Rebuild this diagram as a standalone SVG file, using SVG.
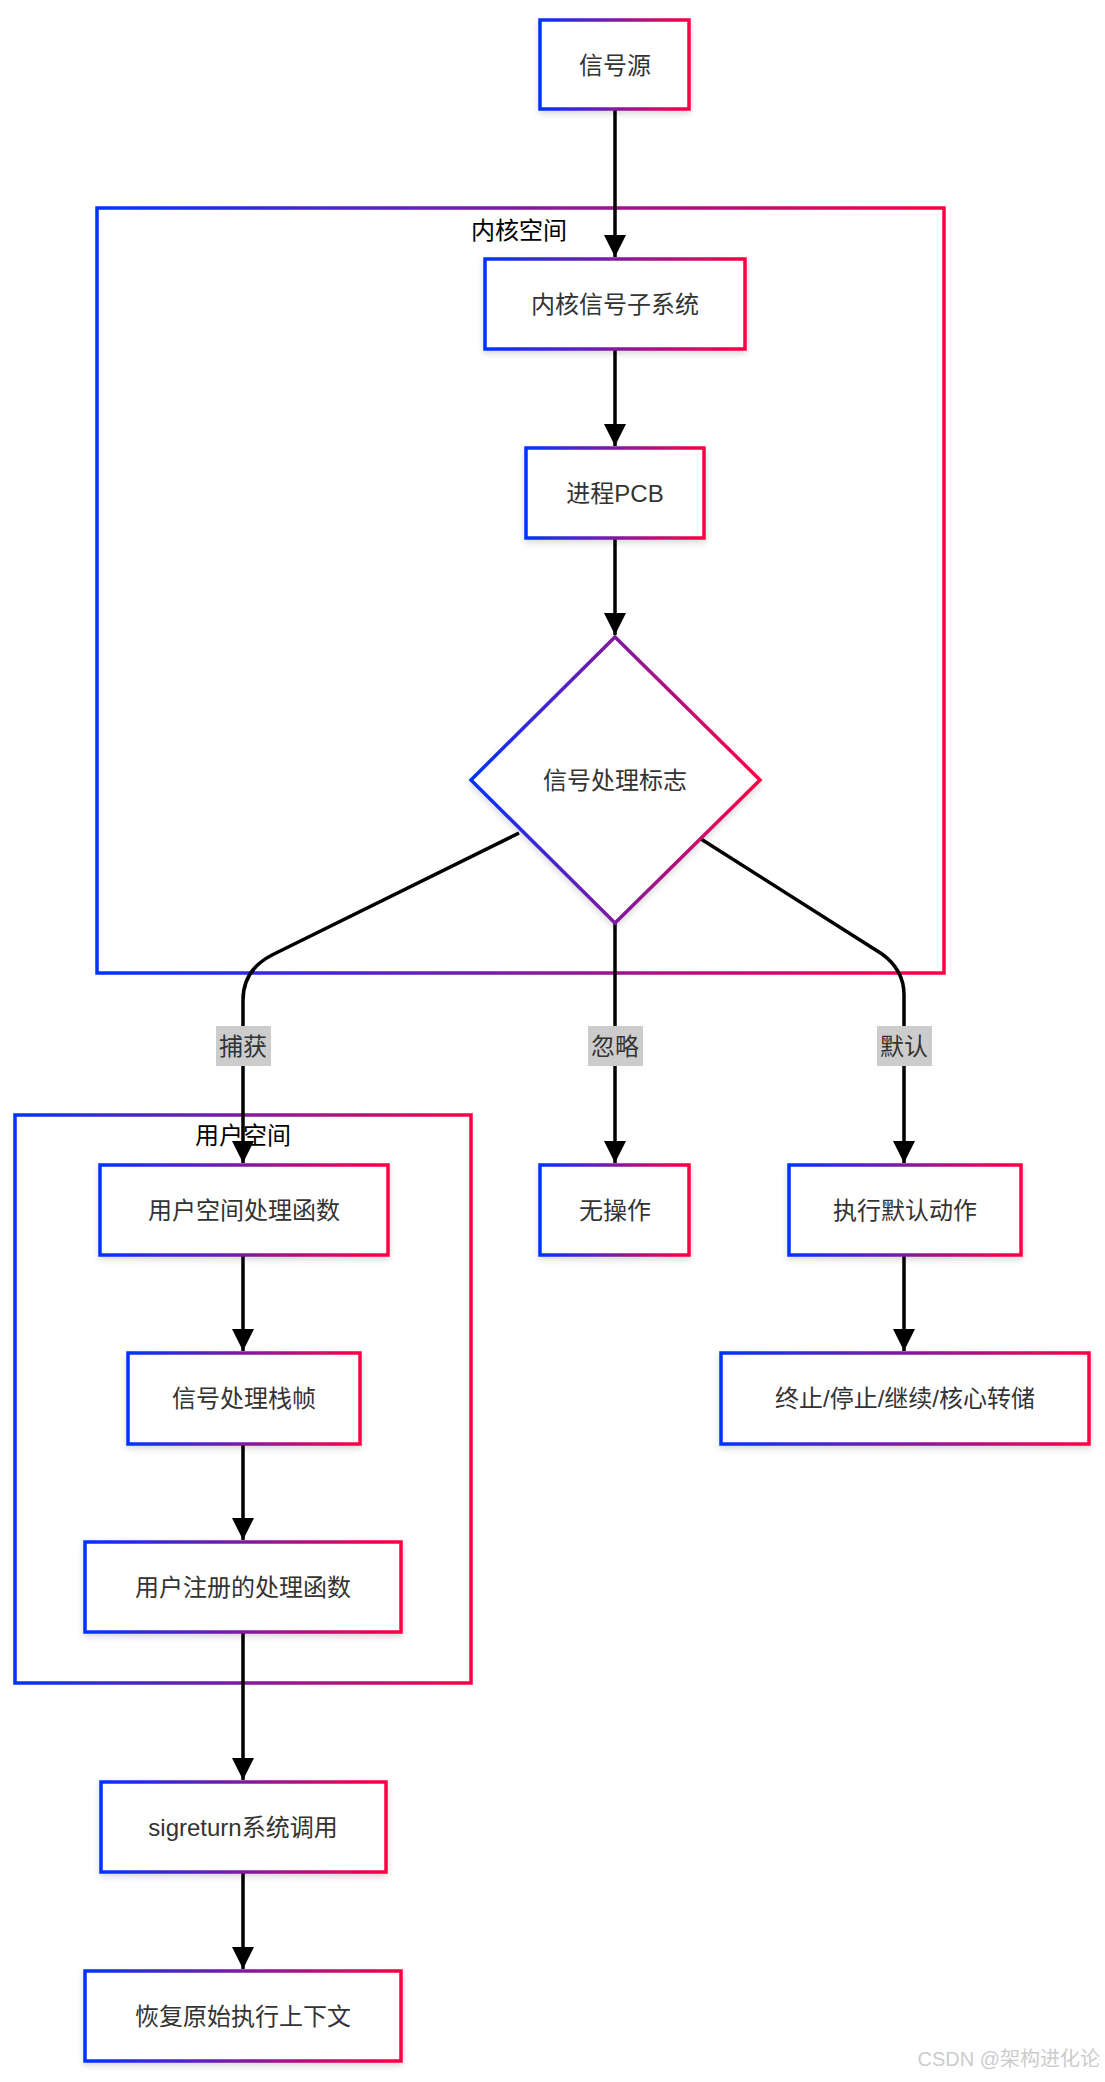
<svg xmlns="http://www.w3.org/2000/svg" width="1105" height="2082" viewBox="0 0 1105 2082">
<defs>
<linearGradient id="g" x1="0" y1="0" x2="1" y2="0"><stop offset="0" stop-color="#0033ff"/><stop offset="1" stop-color="#ff0044"/></linearGradient>
<filter id="sh" x="-10%" y="-10%" width="120%" height="130%"><feDropShadow dx="0" dy="3" stdDeviation="3" flood-color="#000" flood-opacity="0.15"/></filter>
<marker id="ah" markerWidth="24" markerHeight="22" refX="22" refY="11" orient="auto" markerUnits="userSpaceOnUse"><path d="M0,0 L22,11 L0,22 Z" fill="#000"/></marker>
<style>
.n{fill:#fff;stroke:url(#g);stroke-width:3.5;filter:url(#sh)}
.c{fill:none;stroke:url(#g);stroke-width:3.5}
.t{font-family:"Liberation Sans","Noto Sans CJK SC",sans-serif;font-size:24px;fill:#333;text-anchor:middle;dominant-baseline:central}
.ct{font-family:"Liberation Sans","Noto Sans CJK SC",sans-serif;font-size:24px;fill:#000;text-anchor:middle;dominant-baseline:central}
.e{fill:none;stroke:#000;stroke-width:3.5;marker-end:url(#ah)}
.lb{fill:#cccccc}
</style>
</defs>
<rect width="1105" height="2082" fill="#fff"/>
<g id="kernel"><rect class="c" x="97" y="208" width="847" height="765"/><text class="ct" x="519" y="230">内核空间</text></g>
<g id="user"><rect class="c" x="15" y="1115" width="456" height="568"/></g>
<g id="connectors">
<path class="e" d="M615,109 L615,257"/>
<path class="e" d="M615,349 L615,446"/>
<path class="e" d="M615,538 L615,635"/>
<path class="e" d="M519,833 L272,955 Q243,970 243,1000 L243,1163"/>
<path class="e" d="M615,923 L615,1163"/>
<path class="e" d="M701,839 L882,954 Q904,970 904,995 L904,1163"/>
<path class="e" d="M243,1255 L243,1351"/>
<path class="e" d="M243,1444 L243,1540"/>
<path class="e" d="M243,1632 L243,1780"/>
<path class="e" d="M243,1872 L243,1969"/>
<path class="e" d="M904,1255 L904,1351"/>
<rect class="lb" x="216" y="1026" width="55" height="40"/><text class="t" x="243" y="1046">捕获</text>
<rect class="lb" x="588" y="1026" width="55" height="40"/><text class="t" x="615" y="1046">忽略</text>
<rect class="lb" x="877" y="1026" width="55" height="40"/><text class="t" x="904" y="1046">默认</text>
</g>
<text class="ct" x="243" y="1135">用户空间</text>
<g id="src"><rect class="n" x="540" y="20" width="149" height="89"/><text class="t" x="615" y="65">信号源</text></g>
<g id="ksub"><rect class="n" x="485" y="259" width="260" height="90"/><text class="t" x="615" y="304">内核信号子系统</text></g>
<g id="pcb"><rect class="n" x="526" y="448" width="178" height="90"/><text class="t" x="615" y="493">进程PCB</text></g>
<g id="flag"><polygon class="n" points="615,637 760,780 615,923 471,780"/><text class="t" x="615" y="780">信号处理标志</text></g>
<g id="uhandler"><rect class="n" x="100" y="1165" width="288" height="90"/><text class="t" x="244" y="1210">用户空间处理函数</text></g>
<g id="frame"><rect class="n" x="128" y="1353" width="232" height="91"/><text class="t" x="244" y="1398">信号处理栈帧</text></g>
<g id="reg"><rect class="n" x="85" y="1542" width="316" height="90"/><text class="t" x="243" y="1587">用户注册的处理函数</text></g>
<g id="sigret"><rect class="n" x="101" y="1782" width="285" height="90"/><text class="t" x="243" y="1827">sigreturn系统调用</text></g>
<g id="restore"><rect class="n" x="85" y="1971" width="316" height="90"/><text class="t" x="243" y="2016">恢复原始执行上下文</text></g>
<g id="noop"><rect class="n" x="540" y="1165" width="149" height="90"/><text class="t" x="615" y="1210">无操作</text></g>
<g id="def"><rect class="n" x="789" y="1165" width="232" height="90"/><text class="t" x="905" y="1210">执行默认动作</text></g>
<g id="term"><rect class="n" x="721" y="1353" width="368" height="91"/><text class="t" x="905" y="1398">终止/停止/继续/核心转储</text></g>
<text x="1100" y="2066" font-family="Liberation Sans,Noto Sans CJK SC,sans-serif" font-size="20" fill="#cccccc" text-anchor="end">CSDN @架构进化论</text>
</svg>
